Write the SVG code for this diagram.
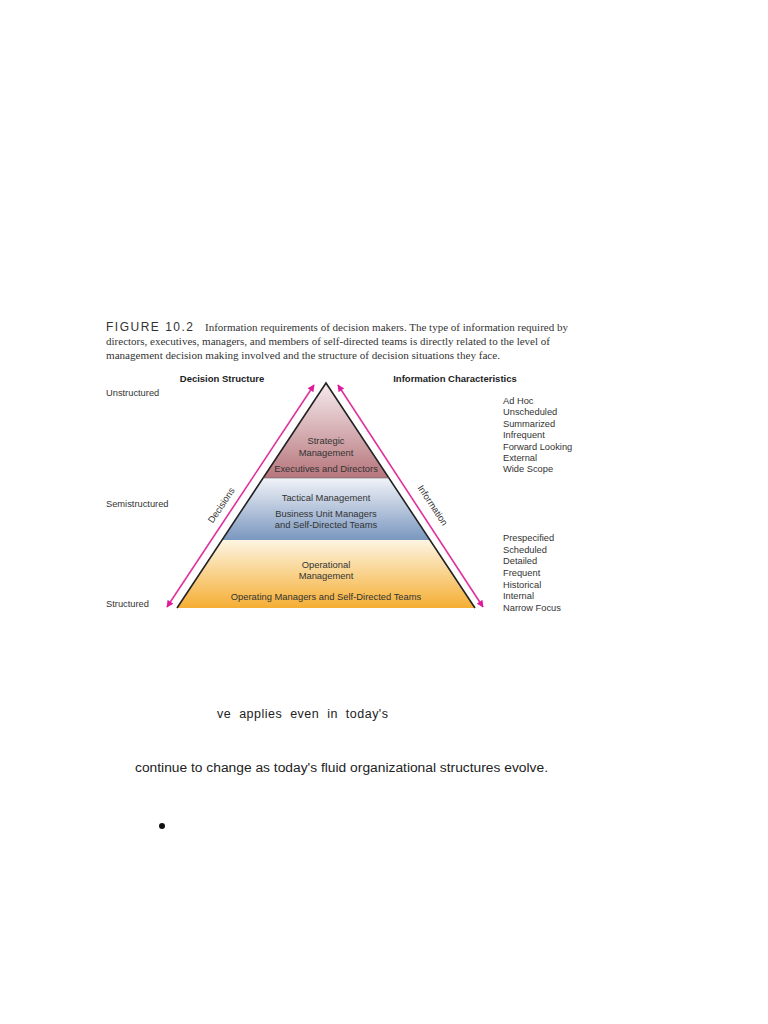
<svg xmlns="http://www.w3.org/2000/svg" width="768" height="1024" viewBox="0 0 768 1024">
<style>
.cap{font-family:"Liberation Serif",serif;font-size:10.5px;fill:#333}
.fig{font-family:"Liberation Sans",sans-serif;font-size:12px;fill:#333;letter-spacing:1.5px}
.hd{font-family:"Liberation Sans",sans-serif;font-size:9.5px;font-weight:bold;fill:#222}
.lb{font-family:"Liberation Sans",sans-serif;font-size:9.3px;fill:#333}
.in{font-family:"Liberation Sans",sans-serif;font-size:9.4px;fill:#333;text-anchor:middle}
.body{font-family:"Liberation Sans",sans-serif;font-size:12.5px;fill:#222}
.arr{stroke:#e0309e;stroke-width:1.6;fill:none}
</style>
<defs>
<linearGradient id="gs" x1="0" y1="0" x2="0" y2="1"><stop offset="0" stop-color="#f6eaec"/><stop offset="1" stop-color="#b6767c"/></linearGradient>
<linearGradient id="gt" x1="0" y1="0" x2="0" y2="1"><stop offset="0" stop-color="#f1f3f8"/><stop offset="1" stop-color="#7a97bf"/></linearGradient>
<linearGradient id="go" x1="0" y1="0" x2="0" y2="1"><stop offset="0" stop-color="#fdf5e2"/><stop offset="1" stop-color="#f5ae34"/></linearGradient>
<marker id="ah" viewBox="0 0 10 10" refX="9" refY="5" markerWidth="7" markerHeight="7" orient="auto-start-reverse" markerUnits="userSpaceOnUse"><path d="M0,0 L10,5 L0,10 z" fill="#e0189a"/></marker>
</defs>
<rect width="768" height="1024" fill="#fff"/>
<g id="caption">
<text class="fig" x="106" y="331">FIGURE 10.2</text>
<text class="cap" x="205" y="331" textLength="363" lengthAdjust="spacingAndGlyphs">Information requirements of decision makers. The type of information required by</text>
<text class="cap" x="106" y="345" textLength="444" lengthAdjust="spacingAndGlyphs">directors, executives, managers, and members of self-directed teams is directly related to the level of</text>
<text class="cap" x="106" y="359" textLength="394" lengthAdjust="spacingAndGlyphs">management decision making involved and the structure of decision situations they face.</text>
</g>
<g id="headers">
<text class="hd" x="222" y="382" text-anchor="middle">Decision Structure</text>
<text class="hd" x="455" y="382" text-anchor="middle">Information Characteristics</text>
<text class="lb" x="106" y="396">Unstructured</text>
<text class="lb" x="106" y="507">Semistructured</text>
<text class="lb" x="106" y="607">Structured</text>
</g>
<g id="strategic">
<polygon points="326,383 263,478 389,478" fill="url(#gs)"/>
<text class="in" x="326" y="444">Strategic</text>
<text class="in" x="326" y="456">Management</text>
<text class="in" x="326" y="472">Executives and Directors</text>
</g>
<g id="tactical">
<polygon points="263,478 389,478 430,540 222,540" fill="url(#gt)"/>
<text class="in" x="326" y="501">Tactical Management</text>
<text class="in" x="326" y="517">Business Unit Managers</text>
<text class="in" x="326" y="528">and Self-Directed Teams</text>
</g>
<g id="operational">
<polygon points="222,540 430,540 475,608 177,608" fill="url(#go)"/>
<text class="in" x="326" y="568">Operational</text>
<text class="in" x="326" y="579">Management</text>
<text class="in" x="326" y="600">Operating Managers and Self-Directed Teams</text>
</g>
<g id="outline">
<polyline points="177,608 326,383 475,608" fill="none" stroke="#222" stroke-width="1.6"/>
<line x1="263" y1="478" x2="389" y2="478" stroke="#666" stroke-width="0.6"/>
</g>
<g id="connectors">
<line class="arr" x1="167" y1="607" x2="314" y2="385" marker-start="url(#ah)" marker-end="url(#ah)"/>
<line class="arr" x1="338" y1="385" x2="483" y2="607" marker-start="url(#ah)" marker-end="url(#ah)"/>
<text class="lb" x="0" y="0" text-anchor="middle" transform="translate(224,507) rotate(-56.4)">Decisions</text>
<text class="lb" x="0" y="0" text-anchor="middle" transform="translate(430,507) rotate(56.4)">Information</text>
</g>
<g id="list-top">
<text class="lb" x="503" y="404">Ad Hoc</text>
<text class="lb" x="503" y="415">Unscheduled</text>
<text class="lb" x="503" y="427">Summarized</text>
<text class="lb" x="503" y="438">Infrequent</text>
<text class="lb" x="503" y="450">Forward Looking</text>
<text class="lb" x="503" y="461">External</text>
<text class="lb" x="503" y="472">Wide Scope</text>
</g>
<g id="list-bottom">
<text class="lb" x="503" y="541">Prespecified</text>
<text class="lb" x="503" y="553">Scheduled</text>
<text class="lb" x="503" y="564">Detailed</text>
<text class="lb" x="503" y="576">Frequent</text>
<text class="lb" x="503" y="588">Historical</text>
<text class="lb" x="503" y="599">Internal</text>
<text class="lb" x="503" y="611">Narrow Focus</text>
</g>
<g id="body">
<text class="body" x="217" y="718" word-spacing="4" textLength="171" lengthAdjust="spacing">ve applies even in today's</text>
<text class="body" x="135" y="772" textLength="413" lengthAdjust="spacingAndGlyphs">continue to change as today's fluid organizational structures evolve.</text>
<circle cx="162" cy="826" r="3" fill="#111"/>
</g>
</svg>
